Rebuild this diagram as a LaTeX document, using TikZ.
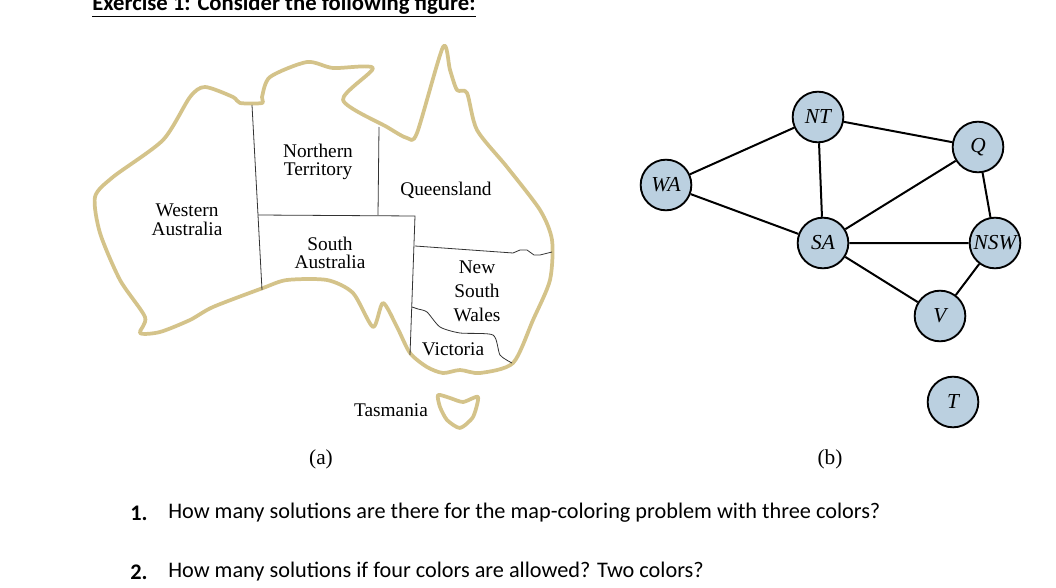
\documentclass[tikz,border=0pt]{standalone}
\usepackage{fontspec}
\setmainfont{Liberation Serif}
\newfontfamily\carl{Carlito}
\begin{document}
\begin{tikzpicture}[x=0.75pt,y=-0.75pt,
  coast/.style={draw={rgb,255:red,212;green,195;blue,138},line width=2.8pt,line join=round},
  border/.style={draw=black!80,line width=0.6pt},
  lab/.style={font=\fontsize{14.5}{14}\selectfont,align=center,inner sep=0pt},
  st/.style={circle,draw,line width=1.4pt,fill={rgb,255:red,187;green,208;blue,224},minimum size=38pt,inner sep=0pt,font=\fontsize{16}{16}\selectfont\itshape},
  ed/.style={line width=1.5pt},
  q/.style={font=\carl\fontsize{16.7}{18}\selectfont,anchor=west,inner sep=0pt}]
\useasboundingbox (0,0) rectangle (1056,588);
\node[font=\carl\bfseries\fontsize{17}{18}\selectfont,anchor=base west,inner sep=0pt] (title) at (92,11) {\underline{Exercise 1: Consider the following figure:}};
% map outline
\draw[coast] plot[smooth cycle,tension=0.45] coordinates {
(95,197)(113,177)(163,140)(190,97)(205,87)(233,97)(240,103)(262,103)(262,97)(270,77)(307,62)(333,68)(373,68)(343,100)(387,127)(407,138)(417,133)(443,47)(450,70)(457,90)(467,93)(477,130)(507,167)(540,210)(552,240)(550,280)(533,320)(513,363)(480,373)(460,370)(443,373)(427,367)(410,353)(397,327)(383,303)(373,327)(353,293)(327,280)(287,280)(263,288)(213,307)(190,320)(160,332)(140,333)(145,317)(120,280)(100,233)};
\draw[coast] plot[smooth cycle,tension=0.4] coordinates {(438,395)(450,398)(463,402)(478,397)(473,417)(460,428)(447,420)(440,407)};
% borders
\draw[border] (252,105) -- (258,215) -- (262,290);
\draw[border] (258,215) -- (415,216) -- (410,355);
\draw[border] (379,127) -- (378,215);
\draw[border] (415,246) -- (513,253) -- (520,250) -- (527,250) -- (534,255) -- (540,255) -- (552,252);
\draw[border] plot[smooth,tension=0.4] coordinates {(412,307)(418,309)(427,312)(440,327)(460,333)(493,335)(500,355)(512,363)};
% labels
\node[lab] (lnt) at (318,162) {Northern\\Territory};
\node[lab] (lq) at (446,190) {Queensland};
\node[lab] (lwa) at (187,220) {Western\\Australia};
\node[lab] (lsa) at (330,253) {South\\Australia};
\node[lab] (lnsw) at (477,291) {New\\[4pt]South\\[4pt]Wales};
\node[lab] (lv) at (453,349) {Victoria};
\node[lab] (lt) at (391,410) {Tasmania};
\node[lab,font=\fontsize{16}{16}\selectfont] (la) at (321,459) {(a)};
\node[lab,font=\fontsize{16}{16}\selectfont] (lb) at (830,459) {(b)};
% graph
\node[st] (NT) at (818,117) {NT};
\node[st] (Q) at (978,147) {Q};
\node[st] (WA) at (666,185) {WA};
\node[st] (SA) at (823,243) {SA};
\node[st] (NSW) at (995,243) {NSW};
\node[st] (V) at (940,316) {V};
\node[st] (T) at (953,402) {T};
\draw[ed] (WA)--(NT) (WA)--(SA) (NT)--(SA) (NT)--(Q) (SA)--(Q) (SA)--(NSW) (SA)--(V) (Q)--(NSW) (NSW)--(V);
% questions
\node[q,font=\carl\bfseries\fontsize{16.7}{18}\selectfont] (n1) at (130,513) {1.};
\node[q] (q1) at (168,513) {How many solutions are there for the map-coloring problem with three colors?};
\node[q,font=\carl\bfseries\fontsize{16.7}{18}\selectfont] (n2) at (130,572) {2.};
\node[q] (q2) at (168,572) {How many solutions if four colors are allowed? Two colors?};
\end{tikzpicture}
\end{document}
